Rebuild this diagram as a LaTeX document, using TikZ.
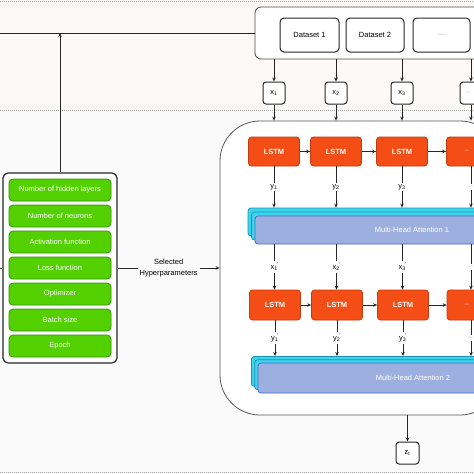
\documentclass[tikz,border=0pt]{standalone}
\usepackage{fontspec}
\setmainfont{Liberation Sans}
\usetikzlibrary{arrows.meta}
\definecolor{bgtop}{HTML}{FDF9F7}
\definecolor{bgbot}{HTML}{FAFAFA}
\definecolor{lstmF}{HTML}{F44E16}
\definecolor{lstmB}{HTML}{C23A10}
\definecolor{hpF}{HTML}{52D000}
\definecolor{hpB}{HTML}{2F9200}
\definecolor{mhaF}{HTML}{9DAFDE}
\definecolor{mhaB}{HTML}{3C6DD4}
\definecolor{cyF}{HTML}{3FD3EA}
\definecolor{cyB}{HTML}{1496B8}
\newcommand\lblsub[2]{#1\textsubscript{#2}}
\newcommand\lblsubp[2]{#1\textsubscript{#2}\kern-0.1em\textsuperscript{\textquotesingle}}
\begin{document}
\begin{tikzpicture}[x=1pt,y=-1pt,
  every node/.style={font=\fontsize{7.5}{9}\selectfont, inner sep=0pt},
  arr/.style={-{Stealth[length=4pt,width=3.5pt]}, line width=0.7pt, draw=black!85},
  ln/.style={line width=0.7pt, draw=black!85},
  dots/.style={draw=gray!70, line width=1.3pt, dash pattern=on 1pt off 1pt},
  dbox/.style={draw=black!85, line width=1pt, rounded corners=4pt, fill=white, minimum height=34pt},
  xbox/.style={draw=black!85, line width=1pt, rounded corners=3pt, fill=white, minimum width=22pt, minimum height=22pt},
  lstm/.style={draw=lstmB, fill=lstmF, line width=0.7pt, rounded corners=3pt, minimum width=51pt, minimum height=29pt, text=white, font=\fontsize{7.5}{9}\selectfont\bfseries},
  hp/.style={draw=hpB, fill=hpF, rounded corners=4pt, line width=0.8pt, minimum width=102pt, minimum height=22pt, text=white},
  mhafront/.style={draw=mhaB, fill=mhaF, line width=0.8pt, rounded corners=3pt, text=white},
  mhaback/.style={draw=cyB, fill=cyF, line width=0.8pt, rounded corners=3pt},
  lab/.style={inner sep=1.5pt}
]
\fill[bgtop] (0,0) rectangle (474,110);
\fill[bgbot] (0,110) rectangle (474,474);
\useasboundingbox (0,0) rectangle (474,474);
\clip (0,0) rectangle (474,474);
\draw[dots] (0,1.5) -- (474,1.5);
\draw[dots] (0,110.5) -- (474,110.5);
\draw[dots] (0,472.5) -- (474,472.5);

% dataset container
\node[draw=black!70, line width=0.8pt, rounded corners=6pt, fill=white, minimum width=245pt, minimum height=52pt] (dcont) at (377.5,33) {};
\node[dbox, minimum width=59pt] (ds1) at (309.5,35) {Dataset 1};
\node[dbox, minimum width=58pt] (ds2) at (375,35) {Dataset 2};
\node[dbox, minimum width=57pt] (ds3) at (441.5,35) {\color{gray!50}---};

% big container
\node[draw=black!65, line width=0.8pt, rounded corners=40pt, fill=white, minimum width=280pt, minimum height=294pt] (bigc) at (360,268) {};

% x boxes
\node[xbox] (x1) at (274,93) {\lblsub{x}{1}};
\node[xbox] (x2) at (336,93) {\lblsub{x}{2}};
\node[xbox] (x3) at (402,93) {\lblsub{x}{3}};
\node[xbox] (x4) at (471,93) {};
\node[text=gray!50] (x4t) at (468,93) {--};
\foreach \n in {x1,x2,x3,x4}{
  \draw[arr] (\n.north |- dcont.south) -- (\n.north);
  \draw[arr] (\n.south) -- (\n.south |- bigc.north);
}

% LSTM row 1
\node[lstm] (l1) at (274,151.5) {LSTM};
\node[lstm] (l2) at (336,151.5) {LSTM};
\node[lstm] (l3) at (402,151.5) {LSTM};
\node[lstm] (l4) at (472,151.5) {};
\node[text=white!70!lstmF] (l4t) at (467,151.5) {--};
\draw[arr] (l1.east) -- (l2.west);
\draw[arr] (l2.east) -- (l3.west);
\draw[arr] (l3.east) -- (l4.west);

% MHA 1
\node[mhaback, minimum width=314pt, minimum height=28pt] (m1b) at (405,222) {};
\node[mhaback, minimum width=314pt, minimum height=28pt] (m1m) at (408.5,226) {};
\node[mhafront, minimum width=314pt, minimum height=28pt] (m1) at (412,230) {Multi-Head Attention 1};

% y labels
\node[lab] (y1) at (274,187) {\lblsub{y}{1}};
\node[lab] (y2) at (336,187) {\lblsub{y}{2}};
\node[lab] (y3) at (402,187) {\lblsub{y}{3}};
\node[lab, text=gray!60] (y4) at (471,187) {--};
\foreach \a/\b in {l1/y1,l2/y2,l3/y3,l4/y4}{
  \draw[ln] (\b.north |- \a.south) -- (\b.north);
  \draw[arr] (\b.south) -- (\b.south |- m1b.north);
}

% LSTM row 2
\node[lstm, minimum height=30pt] (r1) at (275,305) {LSTM};
\node[lstm, minimum height=30pt] (r2) at (337,305) {LSTM};
\node[lstm, minimum height=30pt] (r3) at (403,305) {LSTM};
\node[lstm, minimum height=30pt] (r4) at (472.5,305) {};
\node[text=white!70!lstmF] (r4t) at (467,305) {--};
\draw[arr] (r1.east) -- (r2.west);
\draw[arr] (r2.east) -- (r3.west);
\draw[arr] (r3.east) -- (r4.west);

% x' labels
\node[lab] (xp1) at (274.5,267) {\lblsubp{x}{1}};
\node[lab] (xp2) at (336.5,267) {\lblsubp{x}{2}};
\node[lab] (xp3) at (402.5,267) {\lblsubp{x}{3}};
\node[lab, text=gray!60] (xp4) at (471,267) {--};
\foreach \a/\b in {r1/xp1,r2/xp2,r3/xp3,r4/xp4}{
  \draw[ln] (\b.north |- m1.south) -- (\b.north);
  \draw[arr] (\b.south) -- (\b.south |- \a.north);
}

% MHA 2
\node[mhaback, minimum width=310pt, minimum height=30pt] (m2b) at (406.4,371.4) {};
\node[mhaback, minimum width=310pt, minimum height=30pt] (m2m) at (409.7,374.7) {};
\node[mhafront, minimum width=310pt, minimum height=30pt] (m2) at (413,378) {Multi-Head Attention 2};

% y' labels
\node[lab] (yp1) at (275,338) {\lblsubp{y}{1}};
\node[lab] (yp2) at (337,338) {\lblsubp{y}{2}};
\node[lab] (yp3) at (403,338) {\lblsubp{y}{3}};
\node[lab, text=gray!60] (yp4) at (471,338) {--};
\foreach \a/\b in {r1/yp1,r2/yp2,r3/yp3,r4/yp4}{
  \draw[ln] (\b.north |- \a.south) -- (\b.north);
  \draw[arr] (\b.south) -- (\b.south |- m2b.north);
}

% output
\node[xbox, minimum width=23pt] (zt) at (407.5,453) {\lblsub{z}{t}};
\draw[arr] (zt.north |- bigc.south) -- (zt.north);

% hyperparameter panel
\node[draw=black!85, line width=1.2pt, rounded corners=5pt, fill=white, minimum width=114pt, minimum height=190pt] (panel) at (60,268) {};
\node[hp] (h1) at (60,190) {Number of hidden layers};
\node[hp] (h2) at (60,216) {Number of neurons};
\node[hp] (h3) at (60,242) {Activation function};
\node[hp] (h4) at (60,268) {Loss function};
\node[hp] (h5) at (60,294) {Optimizer};
\node[hp] (h6) at (60,320) {Batch size};
\node[hp] (h7) at (60,346) {Epoch};

\coordinate (tl) at (0,33);
\coordinate (tj) at (60,33);
\coordinate (ls) at (0,268);
\draw[ln] (tl) -- (dcont.west);
\draw[arr] (panel.north) -- (tj);
\draw[ln] (ls) -- (panel.west);
\draw[arr] (panel.east) -- node[fill=bgbot, align=center, inner sep=2pt, font=\fontsize{7.5}{11}\selectfont] {Selected\\Hyperparameters} (bigc.west);
\end{tikzpicture}
\end{document}
